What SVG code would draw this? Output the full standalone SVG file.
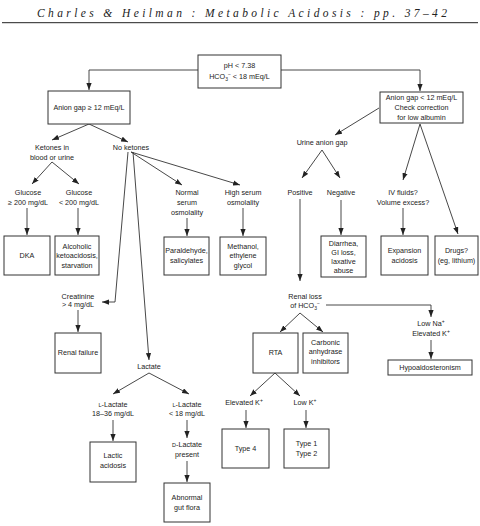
<svg xmlns="http://www.w3.org/2000/svg" width="480" height="526" viewBox="0 0 480 526">
<defs>
<marker id="ah" viewBox="0 0 8 6" refX="8" refY="3" markerWidth="7" markerHeight="5.5" markerUnits="userSpaceOnUse" orient="auto">
<path d="M0,0 L8,3 L0,6 z" fill="#222"/>
</marker>
<style>
text{font-family:"Liberation Sans","DejaVu Sans",sans-serif;font-size:7.2px;fill:#222;text-anchor:middle}
.hd{font-family:"Liberation Serif",serif;font-style:italic;font-size:11.5px;fill:#222}
rect{fill:#fff;stroke:#333;stroke-width:1}
#connectors path,#connectors line{fill:none;stroke:#333;stroke-width:0.9;marker-end:url(#ah)}
.sc{font-size:5.5px}
</style>
</defs>
<rect x="0" y="0" width="480" height="526" style="stroke:none"/>
<g id="header">
<text class="hd" x="242" y="17" textLength="410" lengthAdjust="spacing">Charles &amp; Heilman : Metabolic Acidosis : pp. 37–42</text>
<line x1="2" y1="22.7" x2="478" y2="22.7" stroke="#222" stroke-width="1"/>
</g>
<g id="connectors">
<path d="M198,70 H89 V90"/>
<path d="M281,70 H420 V91"/>
<line x1="89" y1="124" x2="52" y2="140"/>
<line x1="89" y1="124" x2="128" y2="142"/>
<line x1="52" y1="162" x2="32" y2="184"/>
<line x1="52" y1="162" x2="79" y2="184"/>
<line x1="27" y1="208" x2="27" y2="235"/>
<line x1="78" y1="208" x2="78" y2="235"/>
<line x1="131" y1="152" x2="182" y2="185"/>
<line x1="131" y1="152" x2="240" y2="185"/>
<line x1="187" y1="218" x2="187" y2="236"/>
<line x1="243" y1="208" x2="243" y2="236"/>
<path d="M128,152 L115,302 H102"/>
<line x1="133" y1="152" x2="149" y2="360"/>
<line x1="78" y1="310" x2="78" y2="332"/>
<line x1="149" y1="373" x2="113" y2="394"/>
<line x1="149" y1="373" x2="189" y2="394"/>
<line x1="113" y1="420" x2="113" y2="441"/>
<line x1="187" y1="420" x2="187" y2="438"/>
<line x1="187" y1="461" x2="187" y2="482"/>
<line x1="379" y1="108" x2="335" y2="135"/>
<line x1="322" y1="150" x2="302" y2="178"/>
<line x1="322" y1="150" x2="340" y2="178"/>
<line x1="300" y1="199" x2="300" y2="281"/>
<line x1="341" y1="200" x2="341" y2="235"/>
<line x1="420" y1="124" x2="403" y2="180"/>
<line x1="420" y1="124" x2="458" y2="234"/>
<line x1="403" y1="208" x2="403" y2="235"/>
<path d="M326,305 H431 V317"/>
<line x1="431" y1="340" x2="431" y2="359"/>
<line x1="300" y1="313" x2="280" y2="332"/>
<line x1="300" y1="313" x2="323" y2="332"/>
<line x1="275" y1="373" x2="250" y2="396"/>
<line x1="275" y1="373" x2="300" y2="396"/>
<line x1="246" y1="410" x2="246" y2="428"/>
<line x1="306" y1="410" x2="306" y2="428"/>
</g>
<g id="n_top"><rect x="198" y="55" width="83" height="33"/>
<text x="239.5" y="68">pH &lt; 7.38</text>
<text x="239.5" y="79">HCO<tspan font-size="5" dy="1.5">3</tspan><tspan font-size="5" dy="-4.5">−</tspan><tspan dy="3"> &lt; 18 mEq/L</tspan></text></g>
<g id="n_ag_high"><rect x="48" y="91" width="82" height="33"/><text x="89" y="110">Anion gap ≥ 12 mEq/L</text></g>
<g id="n_ag_low"><rect x="380" y="92" width="83" height="31"/>
<text x="421.5" y="100">Anion gap &lt; 12 mEq/L</text><text x="421.5" y="110">Check correction</text><text x="421.5" y="120">for low albumin</text></g>
<g id="n_ketones"><text x="52" y="150">Ketones in</text><text x="52" y="160">blood or urine</text></g>
<g id="n_noket"><text x="131" y="150">No ketones</text></g>
<g id="n_glu_hi"><text x="28" y="195">Glucose</text><text x="28" y="205">≥ 200 mg/dL</text></g>
<g id="n_glu_lo"><text x="79" y="195">Glucose</text><text x="79" y="205">&lt; 200 mg/dL</text></g>
<g id="n_dka"><rect x="4" y="236" width="46" height="39"/><text x="27" y="258">DKA</text></g>
<g id="n_alc"><rect x="55" y="236" width="44" height="39"/><text x="77" y="249">Alcoholic</text><text x="77" y="258">ketoacidosis,</text><text x="77" y="268">starvation</text></g>
<g id="n_normosm"><text x="187" y="195">Normal</text><text x="187" y="205">serum</text><text x="187" y="215">osmolality</text></g>
<g id="n_highosm"><text x="243" y="195">High serum</text><text x="243" y="205">osmolality</text></g>
<g id="n_paral"><rect x="164" y="237" width="45" height="38"/><text x="186.5" y="253">Paraldehyde,</text><text x="186.5" y="263">salicylates</text></g>
<g id="n_meth"><rect x="220" y="237" width="46" height="38"/><text x="243" y="249">Methanol,</text><text x="243" y="258">ethylene</text><text x="243" y="268">glycol</text></g>
<g id="n_creat"><text x="78" y="299">Creatinine</text><text x="78" y="307">&gt; 4 mg/dL</text></g>
<g id="n_renalfail"><rect x="55" y="333" width="46" height="40"/><text x="78" y="355">Renal failure</text></g>
<g id="n_lactate"><text x="149" y="369">Lactate</text></g>
<g id="n_llac_hi"><text x="113" y="407"><tspan class="sc">L</tspan>-Lactate</text><text x="113" y="416">18–36 mg/dL</text></g>
<g id="n_llac_lo"><text x="187" y="407"><tspan class="sc">L</tspan>-Lactate</text><text x="187" y="416">&lt; 18 mg/dL</text></g>
<g id="n_lactic"><rect x="90" y="442" width="46" height="40"/><text x="113" y="458">Lactic</text><text x="113" y="468">acidosis</text></g>
<g id="n_dlac"><text x="187" y="447"><tspan class="sc">D</tspan>-Lactate</text><text x="187" y="457">present</text></g>
<g id="n_gut"><rect x="164" y="483" width="46" height="39"/><text x="187" y="500">Abnormal</text><text x="187" y="510">gut flora</text></g>
<g id="n_uag"><text x="322" y="145">Urine anion gap</text></g>
<g id="n_pos"><text x="300" y="195">Positive</text></g>
<g id="n_neg"><text x="341" y="195">Negative</text></g>
<g id="n_diarr"><rect x="321" y="236" width="45" height="41"/><text x="343.5" y="246">Diarrhea,</text><text x="343.5" y="255">GI loss,</text><text x="343.5" y="264">laxative</text><text x="343.5" y="273">abuse</text></g>
<g id="n_ivf"><text x="403" y="195">IV fluids?</text><text x="403" y="205">Volume excess?</text></g>
<g id="n_exp"><rect x="381" y="236" width="47" height="39"/><text x="404.5" y="253">Expansion</text><text x="404.5" y="263">acidosis</text></g>
<g id="n_drugs"><rect x="435" y="236" width="43" height="39"/><text x="456.5" y="253">Drugs?</text><text x="456.5" y="263">(eg, lithium)</text></g>
<g id="n_renalloss"><text x="305" y="299">Renal loss</text><text x="305" y="308">of HCO<tspan font-size="5" dy="1.5">3</tspan><tspan font-size="5" dy="-4.5">−</tspan></text></g>
<g id="n_rta"><rect x="253" y="333" width="45" height="40"/><text x="275.5" y="355">RTA</text></g>
<g id="n_carb"><rect x="303" y="333" width="45" height="40"/><text x="325.5" y="345">Carbonic</text><text x="325.5" y="354">anhydrase</text><text x="325.5" y="364">inhibitors</text></g>
<g id="n_lowna"><text x="431" y="326">Low Na<tspan font-size="5" dy="-3">+</tspan></text><text x="431" y="336">Elevated K<tspan font-size="5" dy="-3">+</tspan></text></g>
<g id="n_hypo"><rect x="388" y="360" width="84" height="15"/><text x="430" y="370">Hypoaldosteronism</text></g>
<g id="n_elevk"><text x="244" y="405">Elevated K<tspan font-size="5" dy="-3">+</tspan></text></g>
<g id="n_lowk"><text x="305" y="405">Low K<tspan font-size="5" dy="-3">+</tspan></text></g>
<g id="n_type4"><rect x="222" y="429" width="47" height="39"/><text x="245.5" y="451">Type 4</text></g>
<g id="n_type12"><rect x="284" y="429" width="45" height="39"/><text x="306.5" y="446">Type 1</text><text x="306.5" y="456">Type 2</text></g>
</svg>
